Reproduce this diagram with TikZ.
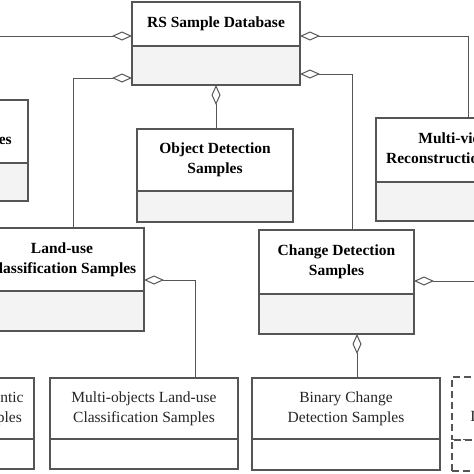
\documentclass[tikz,border=0pt]{standalone}
\usepackage{fontspec}
\setmainfont{Liberation Serif}
\usetikzlibrary{arrows.meta}
\definecolor{linegray}{RGB}{85,85,85}
\definecolor{partgray}{RGB}{243,243,243}

\begin{document}
\begin{tikzpicture}[x=1pt,y=-1pt,
  cls/.style={draw=linegray,line width=1.2pt,fill=white,anchor=north west,align=center,inner sep=0pt,outer sep=0pt,font=\fontsize{15.5}{20}\selectfont\bfseries},
  clsn/.style={cls,text=black!85,font=\fontsize{15.5}{20}\selectfont},
  part/.style={draw=linegray,line width=1.2pt,fill=partgray,anchor=north west,inner sep=0pt,outer sep=0pt},
  agg/.style={draw=linegray,line width=1pt,-{Diamond[open,length=20pt,width=9pt]}}]
\useasboundingbox (0,0) rectangle (474,474);
\clip (0,0) rectangle (474,474);

\node[cls,minimum width=168,minimum height=44] (rs) at (132,2) {RS Sample Database};
\node[part,minimum width=168,minimum height=39] (rsl) at (rs.south west) {};

\node[cls,minimum width=181,minimum height=63] (scene) at (-153,100) {Scene\\Classification Samples};
\node[part,minimum width=181,minimum height=38] (scenel) at (scene.south west) {};

\node[cls,minimum width=156,minimum height=62] (od) at (137,129) {Object Detection\\Samples};
\node[part,minimum width=156,minimum height=31] (odl) at (od.south west) {};

\node[cls,minimum width=180,minimum height=64] (mv) at (376,118) {Multi-view 3D\\Reconstruction Samples};
\node[part,minimum width=180,minimum height=39] (mvl) at (mv.south west) {};

\node[cls,minimum width=164,minimum height=63] (lu) at (-20,228) {Land-use\\Classification Samples};
\node[part,minimum width=164,minimum height=40] (lul) at (lu.south west) {};

\node[cls,minimum width=155,minimum height=64] (cd) at (259,230) {Change Detection\\Samples};
\node[part,minimum width=155,minimum height=40] (cdl) at (cd.south west) {};

\node[clsn,minimum width=166,minimum height=61] (sem) at (-132,378) {Multi-objects Semantic\\Segmentation Samples};
\node[part,fill=white,minimum width=166,minimum height=30] (seml) at (sem.south west) {};

\node[clsn,minimum width=188,minimum height=61] (mo) at (50,378) {Multi-objects Land-use\\Classification Samples};
\node[part,fill=white,minimum width=188,minimum height=30] (mol) at (mo.south west) {};

\node[clsn,minimum width=188,minimum height=61] (bcd) at (252,378) {Binary Change\\Detection Samples};
\node[part,fill=white,minimum width=188,minimum height=31] (bcdl) at (bcd.south west) {};

\node[clsn,dash pattern=on 7pt off 4pt,minimum width=132,minimum height=63] (ts) at (452,377) {Time-series\\Image Samples};
\node[part,dash pattern=on 7pt off 4pt,fill=white,minimum width=132,minimum height=31] (tsl) at (ts.south west) {};

\draw[agg] (scene.north) |- (rs.west |- 0,36);
\draw[agg] (lu.north -| 73,0) |- (rsl.west |- 0,78);
\draw[agg] (od.north -| rsl.south) -- (rsl.south);
\draw[agg] (mv.north -| 468,0) |- (rs.east |- 0,36);
\draw[agg] (cd.north -| 352,0) |- (rsl.east |- 0,74);
\draw[agg] (mo.north -| 195,0) |- (lu.east |- 0,280);
\draw[agg] (bcd.north -| 357,0) -- (cdl.south -| 357,0);
\draw[agg] (ts.north) |- (cd.east |- 0,281);
\end{tikzpicture}
\end{document}
